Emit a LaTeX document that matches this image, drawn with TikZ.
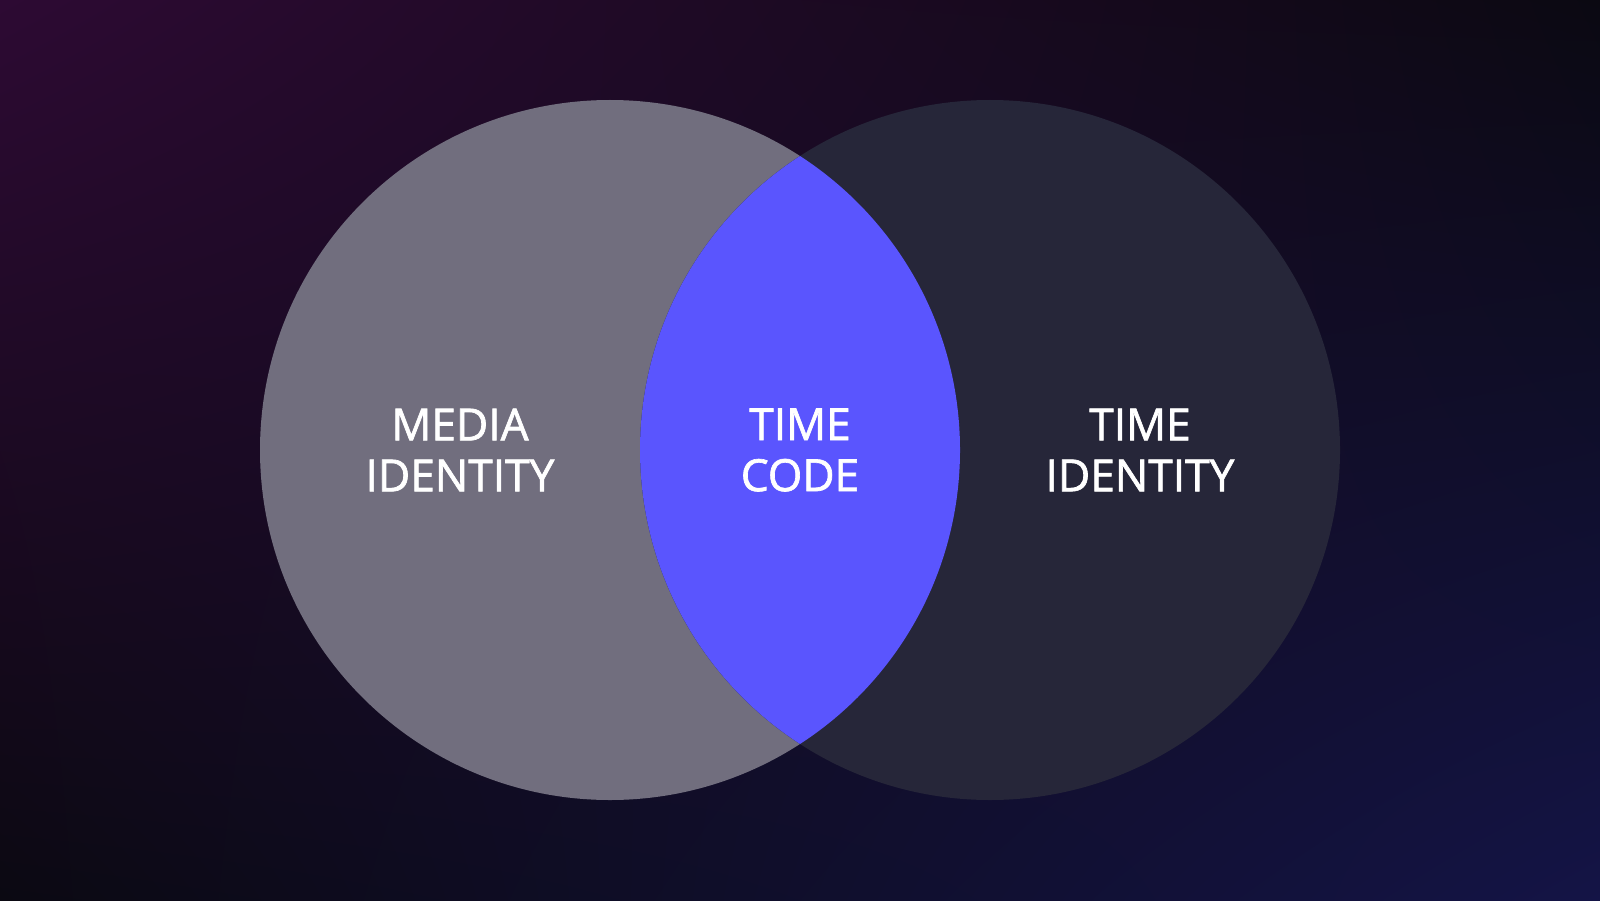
\documentclass[tikz,border=0pt]{standalone}
\usepackage{fontspec}
\setmainfont{Open Sans}
\newfontface\vennfont{Open Sans}[FakeBold=1.5]
\usetikzlibrary{positioning,shadings}
\definecolor{bgpurple}{HTML}{2D0A33}
\definecolor{bgdark}{HTML}{0B0912}
\definecolor{bgnavy}{HTML}{141446}
\definecolor{mediagray}{HTML}{716E7E}
\definecolor{timenavy}{HTML}{262639}
\definecolor{codeblue}{HTML}{5A55FE}
\begin{document}
\begin{tikzpicture}[vennlabel/.style={text=white,align=center,inner sep=0pt,font=\vennfont\fontsize{12.6}{14.5}\selectfont}]
 	\useasboundingbox (0,0) rectangle (16,9);
 	\shade[upper left=bgpurple,upper right=bgdark,lower left=bgdark,lower right=bgnavy] (0,0) rectangle (16,9);
 	\coordinate (mediacentre) at (6.1,4.5);
 	\coordinate (timecentre) at (9.9,4.5);
 	\fill[mediagray] (mediacentre) circle (3.5);
 	\fill[timenavy] (timecentre) circle (3.5);
 	\begin{scope}
 		\clip (mediacentre) circle (3.5);
 		\fill[codeblue] (timecentre) circle (3.5);
 	\end{scope}
 	\node[vennlabel] (code) at (8,4.5) {TIME\\CODE};
 	\node[vennlabel,left=3.4cm of code.center,anchor=center] (media) {MEDIA\\IDENTITY};
 	\node[vennlabel,right=3.4cm of code.center,anchor=center] (time) {TIME\\IDENTITY};
\end{tikzpicture}
\end{document}
